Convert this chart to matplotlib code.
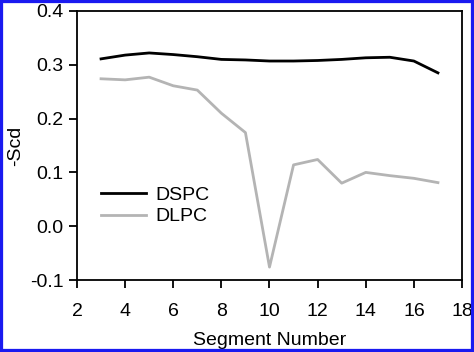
import matplotlib
matplotlib.use("Agg")
import matplotlib.pyplot as plt
from matplotlib.patches import Rectangle

segment = [3, 4, 5, 6, 7, 8, 9, 10, 11, 12, 13, 14, 15, 16, 17]
dspc = [0.311, 0.318, 0.322, 0.319, 0.315, 0.310, 0.309, 0.307, 0.307, 0.308,
        0.310, 0.313, 0.314, 0.307, 0.285]
dlpc = [0.274, 0.272, 0.277, 0.261, 0.253, 0.210, 0.174, -0.076, 0.114, 0.124,
        0.080, 0.100, 0.094, 0.089, 0.081]

x_ticks = [2, 4, 6, 8, 10, 12, 14, 16, 18]
y_ticks = [-0.1, 0.0, 0.1, 0.2, 0.3, 0.4]

plt.rcParams["font.family"] = ["Liberation Sans", "DejaVu Sans"]

fig = plt.figure(figsize=(4.74, 3.52), dpi=100)
ax = fig.add_axes([0.1624, 0.2045, 0.8123, 0.7643])

ax.plot(segment, dspc, color="black", linewidth=2.0, label="DSPC")
ax.plot(segment, dlpc, color="#b4b4b4", linewidth=2.0, label="DLPC")

ax.set_xlim(2, 18)
ax.set_ylim(-0.1, 0.4)
ax.set_xticks(x_ticks)
ax.set_yticks(y_ticks)
ax.set_yticklabels([f"{v:.1f}" for v in y_ticks])
ax.tick_params(direction="out", length=5.5, width=1.3, labelsize=14,
               top=False, right=False)
ax.tick_params(axis="x", pad=11)
ax.tick_params(axis="y", pad=4)
for sp in ax.spines.values():
    sp.set_linewidth(1.3)

ax.set_xlabel("Segment Number", fontsize=14, labelpad=9)
ax.set_ylabel("-Scd", fontsize=14, labelpad=4)

ax.legend(loc="upper left", bbox_to_anchor=(0.043, 0.377), frameon=False,
          fontsize=14, handlelength=2.3, handletextpad=0.5, labelspacing=0.2,
          borderaxespad=0)

# blue frame around the picture
fig.patches.append(Rectangle((0, 0), 1, 1, transform=fig.transFigure,
                             fill=False, edgecolor="#1a1af0", linewidth=4.5))

fig.savefig("out.png", dpi=100)
